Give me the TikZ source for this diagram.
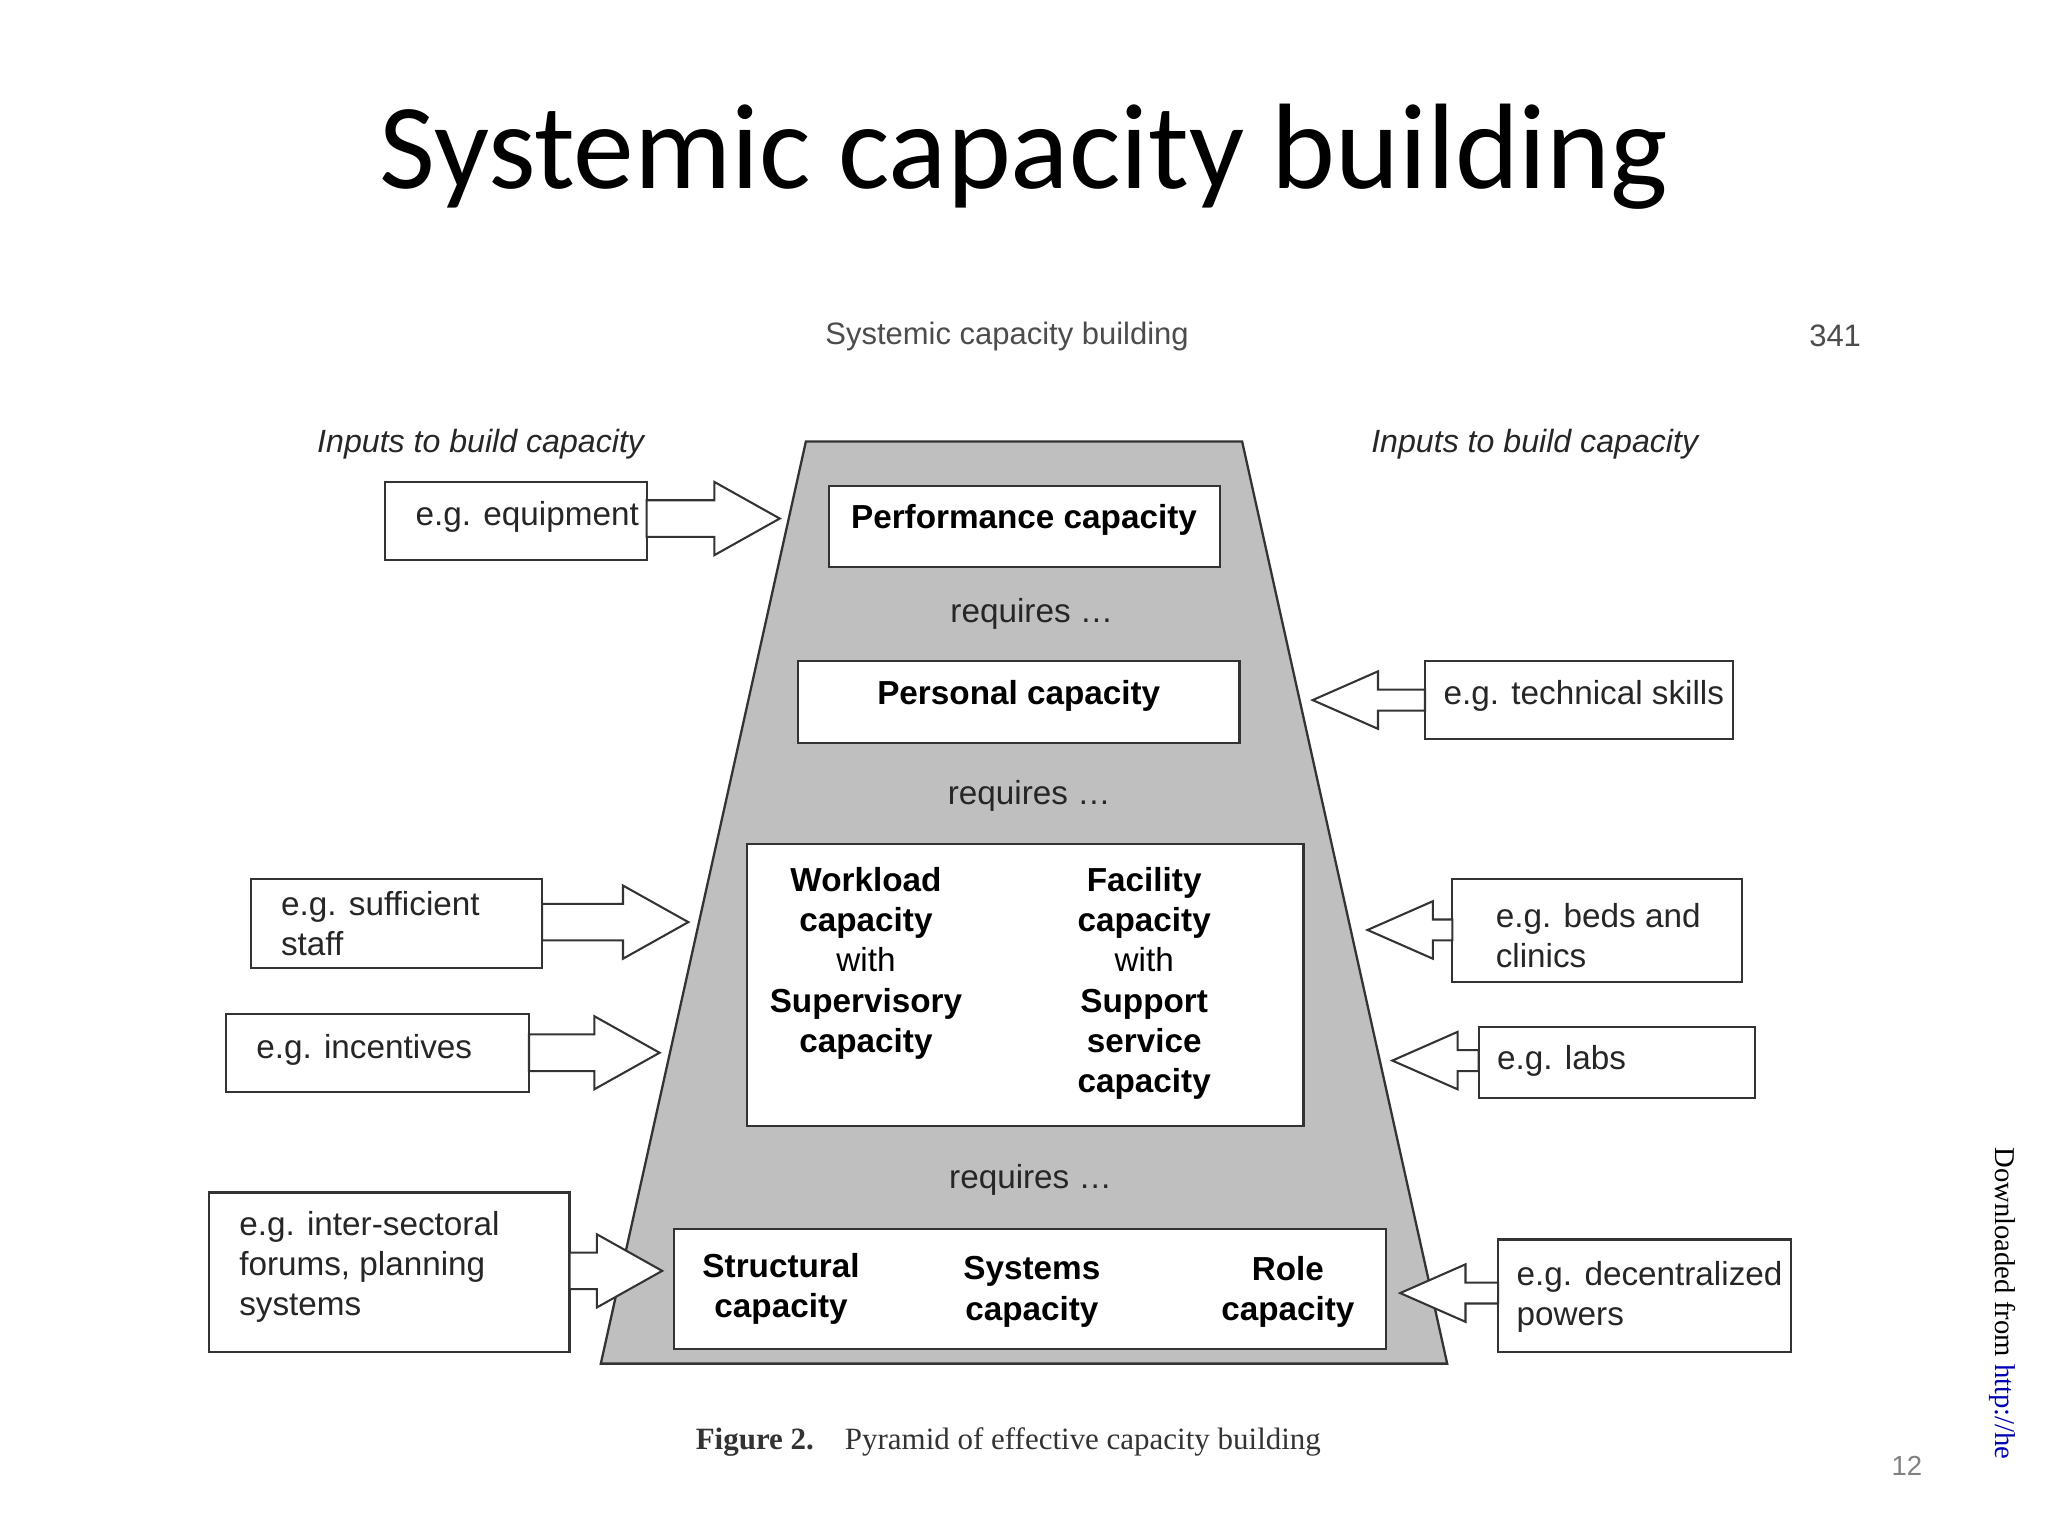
\documentclass[tikz,border=0pt]{standalone}
\usepackage{fontspec}
\setmainfont{Liberation Sans}
\newfontfamily\titlefont{Carlito}
\newfontfamily\serifont{Liberation Serif}
\begin{document}
\begin{tikzpicture}[x=0.02cm,y=-0.02cm,
  box/.style={draw=black!80,line width=0.9pt,fill=white},
  txt/.style={font=\fontsize{14.5}{17.5}\selectfont,text=black!85},
  btxt/.style={font=\fontsize{14.5}{17.5}\selectfont\bfseries,align=center},
  blk/.style={draw=black!80,line width=0.9pt,fill=white,line join=miter}]
\useasboundingbox (0,0) rectangle (1568,1176);
\fill[white] (0,0) rectangle (1568,1176);
\newcommand\larr[3]{\draw[blk] (#1,#2+14) -- (#3-50,#2+14) -- (#3-50,#2+28) -- (#3,#2) -- (#3-50,#2-28) -- (#3-50,#2-14) -- (#1,#2-14) -- cycle;}
\newcommand\rarr[3]{\draw[blk] (#1,#2+8) -- (#3+50,#2+8) -- (#3+50,#2+22) -- (#3,#2) -- (#3+50,#2-22) -- (#3+50,#2-8) -- (#1,#2-8) -- cycle;}
\node[font=\titlefont\fontsize{53}{60}\selectfont] (title) at (784,120) {Systemic capacity building};
\node[font=\fontsize{13.5}{16}\selectfont,text=black!70] (hdr) at (771,258) {Systemic capacity building};
\node[font=\fontsize{13.5}{16}\selectfont,text=black!70] (pg) at (1405,257) {341};
\node[txt,font=\fontsize{14}{17}\selectfont\itshape] (inl) at (368,340) {Inputs to build capacity};
\node[txt,font=\fontsize{14}{17}\selectfont\itshape] (inr) at (1175,340) {Inputs to build capacity};
% pyramid
\draw[fill=black!25,draw=black!80,line width=1pt] (617,338) -- (951,338) -- (1108,1044) -- (460,1044) -- cycle;
\draw[box] (635,372) rectangle (934,434);
\node[btxt] (perf) at (784,398) {Performance capacity};
\node[txt] (r1) at (790,470) {requires \dots};
\draw[box] (611,506) rectangle (949,569);
\node[btxt] (pers) at (780,533) {Personal capacity};
\node[txt] (r2) at (788,609) {requires \dots};
\draw[box] (572,646) rectangle (998,862);
\node[btxt,anchor=north] (wl) at (663,658) {Workload\\capacity\\\mdseries with\\Supervisory\\capacity};
\node[btxt,anchor=north] (fc) at (876,658) {Facility\\capacity\\\mdseries with\\Support\\service\\capacity};
\node[txt] (r3) at (789,903) {requires \dots};
\draw[box] (516,941) rectangle (1061,1033);
\node[btxt] (sc) at (598,987) {Structural\\capacity};
\node[btxt] (syc) at (790,989) {Systems\\capacity};
\node[btxt] (rc) at (986,989) {Role\\capacity};
% left inputs
\draw[box] (295,369) rectangle (495,429);
\node[txt,anchor=west] (eq) at (312,396) {e.g. equipment};
\larr{495}{397}{597}
\draw[box] (192,673) rectangle (415,741);
\node[txt,anchor=west,align=left] (st) at (209,707) {e.g. sufficient\\staff};
\larr{415}{706}{527}
\draw[box] (173,776) rectangle (405,836);
\node[txt,anchor=west] (inc) at (190,804) {e.g. incentives};
\larr{405}{806}{505}
\draw[box] (160,913) rectangle (436,1035);
\node[txt,anchor=west,align=left] (is) at (177,970) {e.g. inter-sectoral\\forums, planning\\systems};
\larr{436}{973}{507}
% right inputs
\draw[box] (1091,506) rectangle (1327,566);
\node[txt,anchor=west] (ts) at (1099,533) {e.g. technical skills};
\rarr{1091}{536}{1005}
\draw[box] (1112,673) rectangle (1334,752);
\node[txt,anchor=west,align=left] (bc) at (1139,716) {e.g. beds and\\clinics};
\rarr{1112}{712}{1047}
\draw[box] (1132,786) rectangle (1344,841);
\node[txt,anchor=west] (lb) at (1140,812) {e.g. labs};
\rarr{1132}{812}{1066}
\draw[box] (1147,949) rectangle (1371,1035);
\node[txt,anchor=west,align=left] (dp) at (1155,993) {e.g. decentralized\\powers};
\rarr{1147}{990}{1072}
% caption
\node[font=\serifont\fontsize{13.5}{16}\selectfont,text=black!80] (cap) at (772,1104) {\textbf{Figure 2.}\quad Pyramid of effective capacity building};
\node[font=\fontsize{12}{14}\selectfont,text=black!50] (num) at (1460,1122) {12};
\node[font=\serifont\fontsize{12.5}{15}\selectfont,rotate=-90] (dl) at (1533,998) {Downloaded from \textcolor{blue!70!black}{http://he}};
\end{tikzpicture}
\end{document}
